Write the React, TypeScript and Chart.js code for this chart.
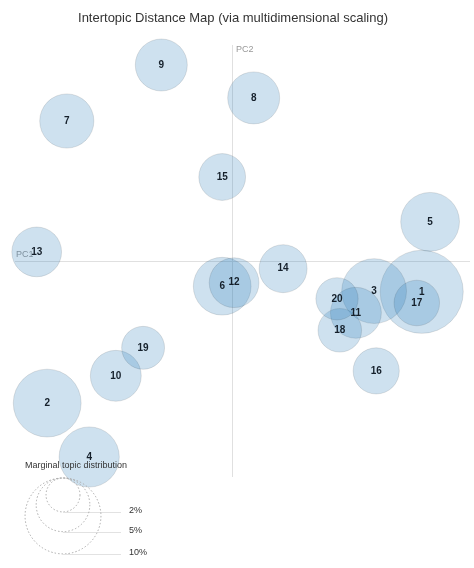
import React, { useEffect, useRef } from "react";
import { Chart, registerables } from "chart.js";

Chart.register(...registerables);

// Topic ids
const topics: string[] = ["1","2","3","4","5","6","7","8","9","10","11","12","13","14","15","16","17","18","19","20"];
// PC1 coordinates
const pc1: number[] = [0.271,-0.264,0.203,-0.204,0.283,-0.014,-0.236,0.031,-0.101,-0.166,0.177,0.003,-0.279,0.073,-0.014,0.206,0.264,0.154,-0.127,0.150];
// PC2 coordinates
const pc2: number[] = [-0.044,-0.203,-0.043,-0.280,0.056,-0.036,0.200,0.233,0.280,-0.164,-0.074,-0.031,0.013,-0.011,0.120,-0.157,-0.060,-0.099,-0.124,-0.054];
// Marginal topic distribution (% of tokens)
const share: number[] = [12.0,8.0,7.3,6.3,6.0,5.8,5.1,4.7,4.7,4.5,4.5,4.3,4.3,4.0,3.8,3.7,3.6,3.3,3.2,3.1];
// Legend reference sizes (%)
const legendTicks: number[] = [2, 5, 10];

const W = 474;
const H = 568;
const PX_PER_UNIT = 700;
const ORIGIN_X = 232;
const ORIGIN_Y = 261;
const RADIUS_K = 12;
const rad = (pct: number) => RADIUS_K * Math.sqrt(pct);

const FONT = "'Liberation Sans', Arial, sans-serif";

const overlayPlugin = {
  id: "ldaOverlay",
  beforeDatasetsDraw(chart: any) {
    const ctx = chart.ctx;
    const xs = chart.scales.x;
    const ys = chart.scales.y;
    const x0 = xs.getPixelForValue(0);
    const y0 = ys.getPixelForValue(0);
    ctx.save();
    // title
    ctx.fillStyle = "#333";
    ctx.font = `13px ${FONT}`;
    ctx.textAlign = "center";
    ctx.textBaseline = "middle";
    ctx.fillText("Intertopic Distance Map (via multidimensional scaling)", 233, 18);
    // axes
    ctx.strokeStyle = "#e0e0e0";
    ctx.lineWidth = 1;
    ctx.beginPath();
    ctx.moveTo(Math.round(x0) + 0.5, 45);
    ctx.lineTo(Math.round(x0) + 0.5, 477);
    ctx.moveTo(15, Math.round(y0) + 0.5);
    ctx.lineTo(470, Math.round(y0) + 0.5);
    ctx.stroke();
    ctx.fillStyle = "#999";
    ctx.font = `9px ${FONT}`;
    ctx.textAlign = "left";
    ctx.textBaseline = "alphabetic";
    ctx.fillText("PC2", x0 + 4, 52);
    ctx.fillText("PC1", 16, y0 - 4);
    ctx.restore();
  },
  afterDatasetsDraw(chart: any) {
    const ctx = chart.ctx;
    const meta = chart.getDatasetMeta(0);
    ctx.save();
    ctx.fillStyle = "#15202b";
    ctx.font = `bold 10px ${FONT}`;
    ctx.textAlign = "center";
    ctx.textBaseline = "middle";
    meta.data.forEach((el: any, i: number) => {
      ctx.fillText(topics[i], el.x, el.y);
    });
    // legend
    ctx.fillStyle = "#333";
    ctx.font = `9px ${FONT}`;
    ctx.textAlign = "left";
    ctx.fillText("Marginal topic distribution", 25, 466);
    const cx = 63;
    const top = 478;
    legendTicks.forEach((t) => {
      const r = rad(t);
      const cy = top + r;
      ctx.strokeStyle = "#aaa";
      ctx.lineWidth = 1;
      ctx.setLineDash([1.5, 2]);
      ctx.beginPath();
      ctx.arc(cx, cy, r, 0, Math.PI * 2);
      ctx.stroke();
      ctx.setLineDash([]);
      ctx.strokeStyle = "#e2e2e2";
      ctx.beginPath();
      ctx.moveTo(cx, Math.round(cy + r) + 0.5);
      ctx.lineTo(121, Math.round(cy + r) + 0.5);
      ctx.stroke();
      ctx.fillStyle = "#333";
      ctx.fillText(`${t}%`, 129, cy + r - 1);
    });
    ctx.restore();
  },
};

export default function App() {
  const ref = useRef<HTMLCanvasElement | null>(null);
  useEffect(() => {
    if (!ref.current) return;
    const data = topics.map((_, i) => ({ x: pc1[i], y: pc2[i], r: rad(share[i]) }));
    const chart = new Chart(ref.current, {
      type: "bubble",
      data: {
        datasets: [
          {
            data,
            backgroundColor: "rgba(31,119,180,0.22)",
            borderColor: "rgba(0,0,0,0.1)",
            borderWidth: 1,
            hoverRadius: 0,
            clip: false,
          },
        ],
      },
      options: {
        animation: false,
        responsive: false,
        layout: { padding: 0, autoPadding: false },
        plugins: { legend: { display: false }, tooltip: { enabled: false }, title: { display: false } },
        scales: {
          x: { type: "linear", display: false, min: -ORIGIN_X / PX_PER_UNIT, max: (W - ORIGIN_X) / PX_PER_UNIT },
          y: { type: "linear", display: false, min: -(H - ORIGIN_Y) / PX_PER_UNIT, max: ORIGIN_Y / PX_PER_UNIT },
        },
      },
      plugins: [overlayPlugin],
    });
    return () => chart.destroy();
  }, []);
  return (
    <div style={{ position: "fixed", left: 0, top: 0, width: W, height: H, background: "#fff" }}>
      <canvas ref={ref} width={W} height={H} />
    </div>
  );
}
